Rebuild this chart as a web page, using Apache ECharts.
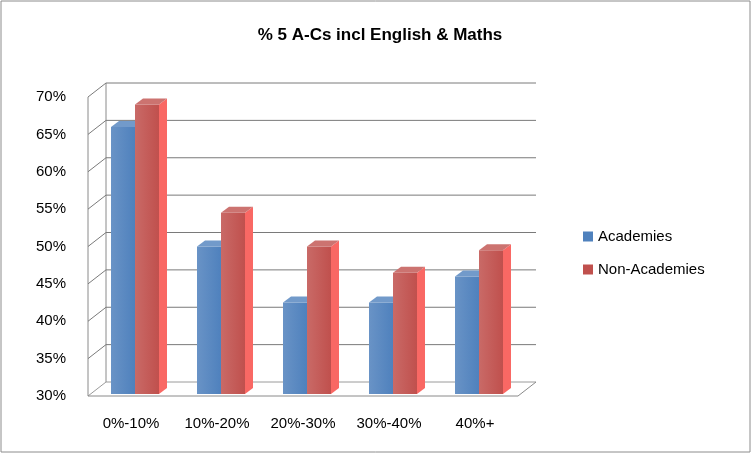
<!DOCTYPE html>
<html><head><meta charset="utf-8">
<script src="https://cdn.jsdelivr.net/npm/echarts@6/dist/echarts.min.js"></script>
<style>html,body{margin:0;padding:0;background:#fff}#c{width:752px;height:454px}</style>
</head><body><div id="c"></div>
<script>
var categories = ['0%-10%', '10%-20%', '20%-30%', '30%-40%', '40%+'];
var academies = [66, 50, 42.5, 42.5, 46];
var nonAcademies = [69, 54.5, 50, 46.5, 49.5];
var yTicks = [30, 35, 40, 45, 50, 55, 60, 65, 70];

var chart = echarts.init(document.getElementById('c'));
var DX = 18, DY = -14;   // back wall offset
var BW = 24, BD = 8, BDY = -6; // bar width / depth

function shade(c, f) {
  return echarts.color.lift(c, f);
}

function barRenderer(offset, color) {
  return function (params, api) {
    var base = api.coord([api.value(0), 30]);
    var top = api.coord([api.value(0), api.value(1)]);
    var x = base[0] + offset - BW / 2 + 4, y0 = base[1] - 2, y1 = top[1];
    return {
      type: 'group',
      children: [
        { type: 'rect', shape: { x: x, y: y1, width: BW, height: y0 - y1 },
          style: { fill: new echarts.graphic.LinearGradient(0, 0, 1, 0, [
            { offset: 0, color: shade(color, 0.15) }, { offset: 1, color: color }]) } },
        { type: 'polygon', shape: { points: [[x + BW, y1], [x + BW + BD, y1 + BDY], [x + BW + BD, y0 + BDY], [x + BW, y0]] },
          style: { fill: shade(color, -0.3) } },
        { type: 'polygon', shape: { points: [[x, y1], [x + BD, y1 + BDY], [x + BW + BD, y1 + BDY], [x + BW, y1]] },
          style: { fill: shade(color, 0.2) } }
      ]
    };
  };
}

function wallRenderer(params, api) {
  var p = api.coord([0, api.value(0)]);
  var rect = params.coordSys;
  var x0 = rect.x, x1 = rect.x + rect.width, y = p[1];
  var children = [
    { type: 'polyline', shape: { points: [[x0, y], [x0 + DX, y + DY], [x1 + DX, y + DY]] },
      style: { stroke: api.value(0) === 30 ? '#9a9a9a' : '#7a7a7a', lineWidth: 1, fill: null } }
  ];
  if (api.value(0) === 30) {
    children.push({ type: 'polyline', shape: { points: [[x0, y], [x1, y], [x1 + DX, y + DY]] },
      style: { stroke: '#8a8a8a', lineWidth: 1, fill: null } });
    children.push({ type: 'line', shape: { x1: x0, y1: y, x2: x0, y2: rect.y },
      style: { stroke: '#8a8a8a', lineWidth: 1 } });
    children.push({ type: 'line', shape: { x1: x0 + DX, y1: y + DY, x2: x0 + DX, y2: rect.y + DY },
      style: { stroke: '#8a8a8a', lineWidth: 1 } });
  }
  return { type: 'group', children: children };
}

chart.setOption({
  animation: false,
  textStyle: { fontFamily: 'Liberation Sans, Arial, sans-serif' },
  title: { text: '% 5 A-Cs incl English & Maths', left: 375, top: 22, textAlign: 'center',
    textStyle: { fontSize: 17, fontWeight: 'bold', color: '#000' } },
  legend: { orient: 'vertical', left: 578, top: 224, itemGap: 18, itemWidth: 10, itemHeight: 10,
    icon: 'rect', textStyle: { fontSize: 15, color: '#000' },
    data: [{ name: 'Academies' }, { name: 'Non-Academies' }] },
  graphic: [{ type: 'rect', shape: { x: 1, y: 1, width: 749, height: 451 },
    style: { fill: null, stroke: '#8c8c8c', lineWidth: 1 } }],
  grid: { left: 88, right: 234, top: 97, bottom: 58 },
  xAxis: { type: 'category', data: categories, axisLine: { show: false }, axisTick: { show: false },
    axisLabel: { fontSize: 15, color: '#000', margin: 20 } },
  yAxis: { type: 'value', min: 30, max: 70, interval: 5, splitLine: { show: false },
    axisLabel: { formatter: '{value}%', fontSize: 15, color: '#000', margin: 22 } },
  series: [
    { type: 'custom', name: 'walls', renderItem: wallRenderer, data: yTicks.map(function (v) { return [v]; }),
      encode: { y: 0 }, silent: true, z: 1 },
    { type: 'custom', name: 'Academies', itemStyle: { color: '#4F81BD' },
      renderItem: barRenderer(-12, '#4F81BD'), encode: { x: 0, y: 1 }, z: 2,
      data: academies.map(function (v, i) { return [i, v]; }) },
    { type: 'custom', name: 'Non-Academies', itemStyle: { color: '#C0504D' },
      renderItem: barRenderer(12, '#C0504D'), encode: { x: 0, y: 1 }, z: 3,
      data: nonAcademies.map(function (v, i) { return [i, v]; }) }
  ]
});
</script></body></html>
